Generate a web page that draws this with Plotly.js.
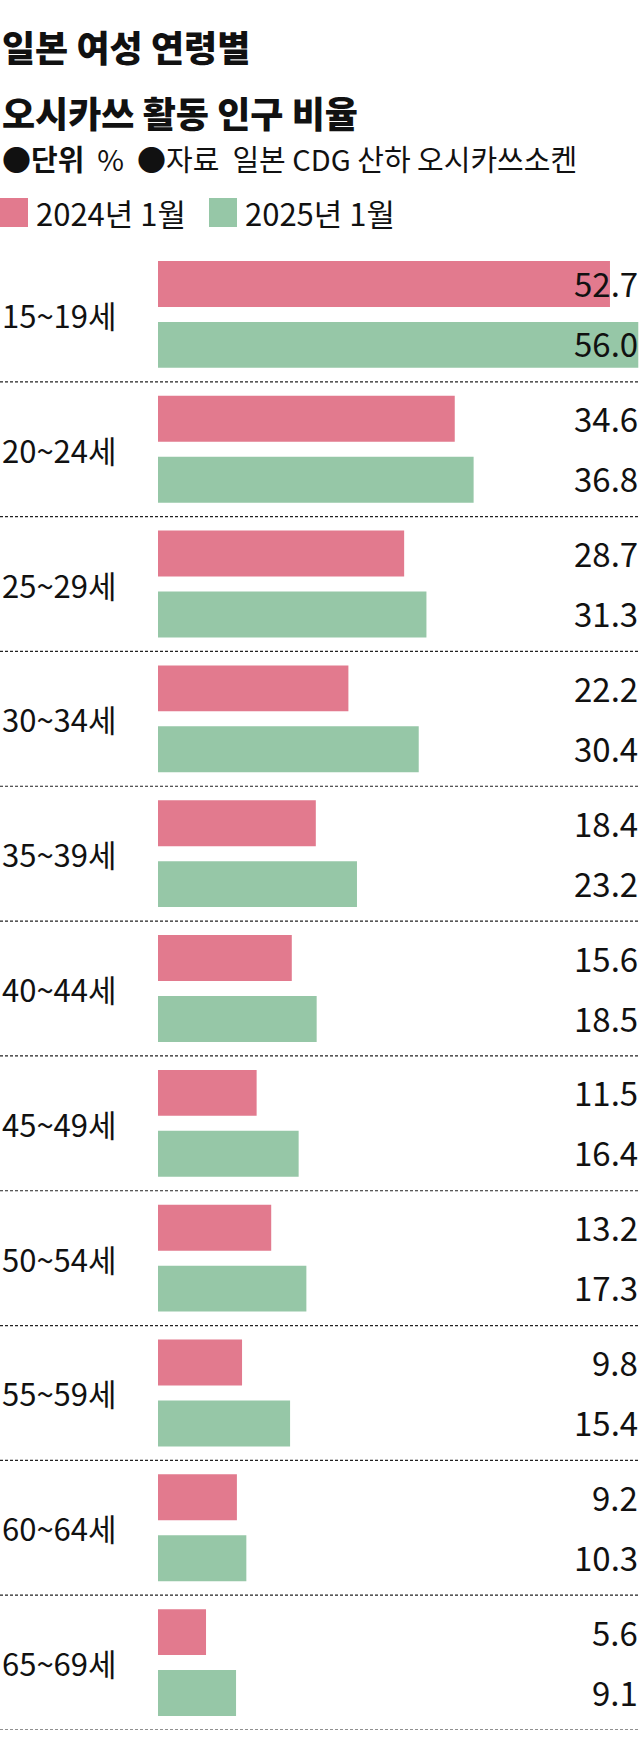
<!DOCTYPE html>
<html>
<head>
<meta charset="utf-8">
<script src="https://cdn.plot.ly/plotly-3.0.1.min.js"></script>
<style>
  html, body { margin: 0; padding: 0; background: #fff; }
  #graph { width: 640px; height: 1763px; }
</style>
</head>
<body>
<div id="graph"></div>
<script>
// 연령대
const ageGroups = ["15~19세", "20~24세", "25~29세", "30~34세", "35~39세", "40~44세",
                   "45~49세", "50~54세", "55~59세", "60~64세", "65~69세"]
// 2024년 1월 / 2025년 1월 (%)
const jan2024 = [52.7, 34.6, 28.7, 22.2, 18.4, 15.6, 11.5, 13.2, 9.8, 9.2, 5.6]
const jan2025 = [56.0, 36.8, 31.3, 30.4, 23.2, 18.5, 16.4, 17.3, 15.4, 10.3, 9.1]
const seriesNames = ["2024년 1월", "2025년 1월"]
const colors = ["#e27a8e", "#96c7a7"]

const FONT = "'Noto Sans CJK KR', 'Noto Sans', sans-serif"
const W = 640, H = 1763
// 플롯 영역 (px)
const L = 158, T = 247, B = 33
const plotW = W - L, plotH = H - T - B
const px = x => (x - L) / plotW
const py = y => (H - B - y) / plotH

const idx = ageGroups.map((_, i) => i)

const traces = [jan2024, jan2025].map((vals, k) => ({
    type: "bar",
    orientation: "h",
    y: idx,
    x: vals,
    name: seriesNames[k],
    marker: { color: colors[k], line: { width: 0 } },
    hoverinfo: "skip",
    showlegend: false
}))

const annotations = []
const shapes = []

// 제목
annotations.push(
    { text: "일본 여성 연령별", x: px(0), y: py(46), font: { size: 36, weight: 900 } },
    { text: "오시카쓰 활동 인구 비율", x: px(0), y: py(112), font: { size: 36, weight: 900 } },
    { text: "<b>●단위</b>  %  ●자료  일본 CDG 산하 오시카쓰소켄", x: px(0), y: py(158), font: { size: 29 } }
)

// 범례
const legendX = [0, 209]
seriesNames.forEach((name, k) => {
    shapes.push({
        type: "rect", xref: "paper", yref: "paper",
        x0: px(legendX[k]), x1: px(legendX[k] + 28), y0: py(198), y1: py(227),
        fillcolor: colors[k], line: { width: 0 }
    })
    annotations.push({ text: name, x: px(legendX[k] + 34), y: py(212), font: { size: 31 } })
})

// 연령대 라벨, 수치, 구분선
ageGroups.forEach((g, i) => {
    annotations.push({ text: g, x: px(0), y: i, yref: "y", font: { size: 31 } })
    annotations.push({ text: jan2024[i].toFixed(1), x: 1, xanchor: "right", y: i, yref: "y",
                       yshift: 31, font: { size: 33 } })
    annotations.push({ text: jan2025[i].toFixed(1), x: 1, xanchor: "right", y: i, yref: "y",
                       yshift: -29, font: { size: 33 } })
    shapes.push({
        type: "line", xref: "paper", yref: "y",
        x0: px(0), x1: 1, y0: i + 0.5, y1: i + 0.5,
        line: { color: "#222", width: 1.2, dash: "3px,2px" }
    })
})

annotations.forEach(a => {
    a.xref = a.xref || "paper"
    a.yref = a.yref || "paper"
    a.xanchor = a.xanchor || "left"
    a.yanchor = "middle"
    a.showarrow = false
    a.font.family = FONT
    a.font.color = "#111"
})

const layout = {
    width: W,
    height: H,
    margin: { l: L, r: 0, t: T, b: B },
    paper_bgcolor: "#fff",
    plot_bgcolor: "#fff",
    barmode: "group",
    bargap: 0.096,
    bargroupgap: 0.246,
    showlegend: false,
    xaxis: { range: [0, 56.2], visible: false, fixedrange: true },
    yaxis: { range: [10.5, -0.5], visible: false, fixedrange: true },
    annotations: annotations,
    shapes: shapes,
    font: { family: FONT }
}

Plotly.newPlot("graph", traces, layout, { staticPlot: true })
</script>
</body>
</html>
